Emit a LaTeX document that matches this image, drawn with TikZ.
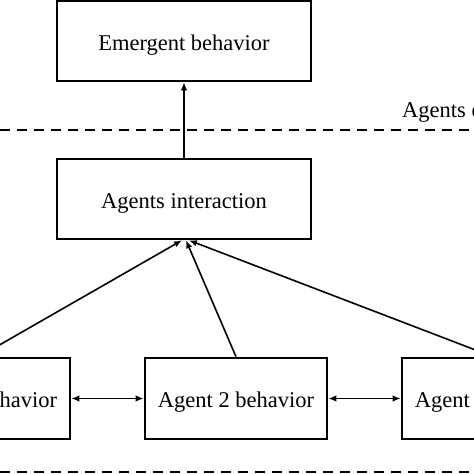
\documentclass[tikz,border=0pt]{standalone}
\usepackage{fontspec}
\setmainfont{Liberation Serif}
\usetikzlibrary{arrows.meta}
\begin{document}
\begin{tikzpicture}[x=1pt,y=-1pt,
  box/.style={draw=black,line width=2.6pt,minimum width=254pt,minimum height=80pt,inner sep=0pt,
    font=\fontsize{22.5}{27}\selectfont,text height=18pt,text depth=0pt},
  agentbox/.style={box,minimum width=182pt,minimum height=81pt},
  conn/.style={line width=1.6pt,-{Latex[length=8pt,width=6.5pt]}},
  biconn/.style={line width=1.6pt,{Latex[length=8pt,width=6.5pt]}-{Latex[length=8pt,width=6.5pt]}},
  sep/.style={line width=2.6pt,dash pattern=on 10pt off 7pt}]
\useasboundingbox (0,0) rectangle (474,474);
\clip (0,0) rectangle (474,474);
\fill[white] (0,0) rectangle (474,474);
\node[box] (emerg) at (184,41) {Emergent behavior};
\node[box] (inter) at (184,199) {Agents interaction};
\node[agentbox] (a1) at (-21,398.5) {Agent 1 behavior};
\node[agentbox] (a2) at (236,398.5) {Agent 2 behavior};
\node[agentbox] (a3) at (493,398.5) {Agent 3 behavior};
\coordinate (sl) at (0,130);
\coordinate (sr) at (474,130);
\draw[sep] (sl) -- (sr);
\coordinate (bl) at (0,472);
\coordinate (br) at (474,472);
\draw[sep] (bl) -- (br);
\node[anchor=base west,inner sep=0pt,font=\fontsize{22.5}{27}\selectfont] (lev) at (402,117) {Agents e};
\draw[conn] (inter.north) -- (emerg.south);
\draw[conn] (a1.north) -- ([xshift=-2pt]inter.south);
\draw[conn] (a2.north) -- ([xshift=2pt]inter.south);
\draw[conn] (a3.north) -- ([xshift=5pt]inter.south);
\draw[biconn] (a1.east) -- (a2.west);
\draw[biconn] (a2.east) -- (a3.west);
\end{tikzpicture}
\end{document}
